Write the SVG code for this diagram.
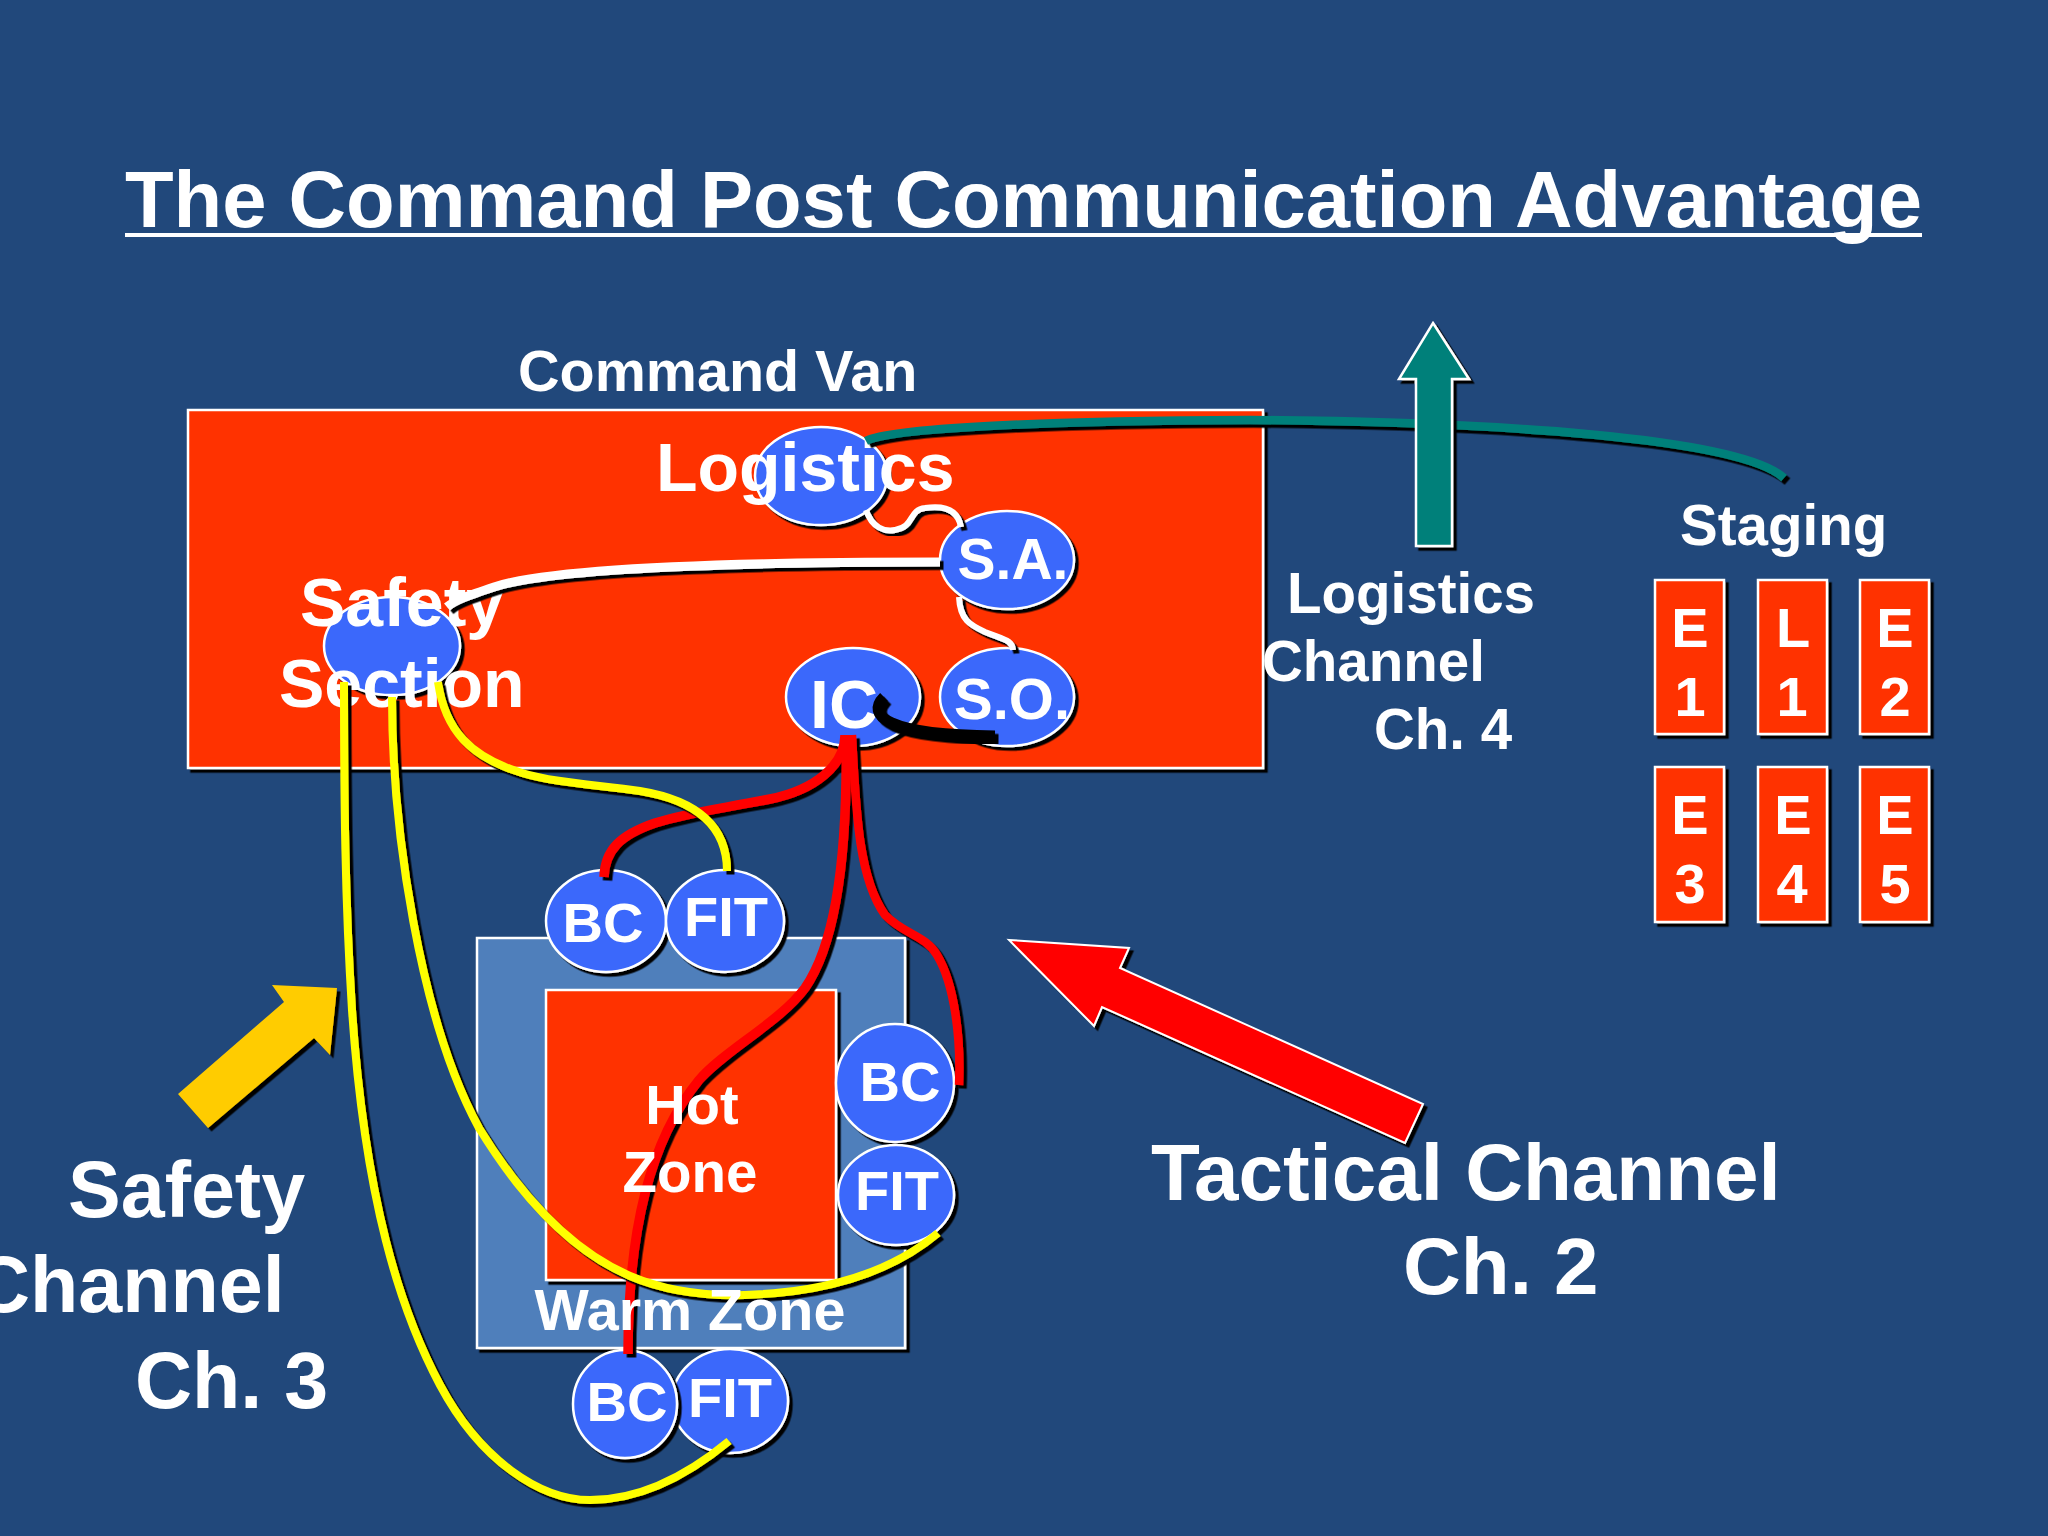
<svg xmlns="http://www.w3.org/2000/svg" width="2048" height="1536" viewBox="0 0 2048 1536">
<style>
text{font-family:"Liberation Sans",Arial,sans-serif;font-weight:700;fill:#fff}
.s{filter:url(#sh)}
.box{fill:#ff3300;stroke:#fff;stroke-width:2.5;filter:url(#sh)}
.n{fill:#3a68fb;stroke:#fff;stroke-width:2.5;filter:url(#sh)}
.c{fill:none;filter:url(#sh);stroke-linecap:butt}
.r{stroke:#ff0000;stroke-width:9.5}
.y{stroke:#ffff00;stroke-width:8}
.w{stroke:#fff;stroke-width:6}
.t56{font-size:56.5px}
.t54{font-size:56px}
.t67{font-size:68px}
.t80{font-size:80px}
.t79{font-size:79px}
</style>
<defs>
<filter id="sh" x="-20%" y="-20%" width="140%" height="140%" filterUnits="objectBoundingBox"><feDropShadow dx="3.5" dy="3.5" stdDeviation="0.6" flood-color="#000"/></filter>
</defs>
<rect id="background" width="2048" height="1536" fill="#21487b"/>
<g id="title">
<text x="125" y="227" font-size="79" textLength="1797" lengthAdjust="spacingAndGlyphs">The Command Post Communication Advantage</text>
<rect x="125" y="233" width="1797" height="4" fill="#fff"/>
</g>
<g id="command-van">
<rect class="box" x="188" y="410" width="1075" height="358"/>
<text font-size="57.5" x="518" y="391">Command Van</text>
</g>
<g id="warm-zone"><rect x="477" y="938" width="428" height="410" fill="#4f7fbb" stroke="#fff" stroke-width="2.5" class="s"/></g>
<g id="hot-zone"><rect class="box" x="546" y="990" width="290" height="290"/></g>
<g id="logistics"><ellipse class="n" cx="821" cy="476" rx="66" ry="49"/><text class="t67" x="656" y="491">Logistics</text></g>
<g id="safety-section"><ellipse class="n" cx="392" cy="646" rx="68" ry="49"/><text class="t67" x="300" y="626">Safety</text><text class="t67" x="279" y="707">Section</text></g>
<g id="sa"><ellipse class="n" cx="1007" cy="560" rx="67" ry="49"/><text font-size="57" x="1013" y="579" text-anchor="middle">S.A.</text></g>
<g id="so"><ellipse class="n" cx="1007" cy="697" rx="67" ry="49"/><text font-size="58" x="1012" y="719" text-anchor="middle">S.O.</text></g>
<g id="ic"><ellipse class="n" cx="853" cy="697" rx="67" ry="49"/><text class="t67" x="844" y="728" text-anchor="middle">IC</text></g>
<g id="bc-top"><ellipse class="n" cx="606" cy="921" rx="60" ry="51"/><text class="t54" x="603" y="942" text-anchor="middle">BC</text></g>
<g id="fit-top"><ellipse class="n" cx="725" cy="921" rx="59" ry="51"/><text class="t54" x="726" y="936" text-anchor="middle">FIT</text></g>
<g id="bc-right"><ellipse class="n" cx="895" cy="1083" rx="59" ry="59"/><text class="t54" x="900" y="1101" text-anchor="middle">BC</text></g>
<g id="fit-right"><ellipse class="n" cx="896" cy="1195" rx="58" ry="50"/><text class="t54" x="897" y="1210" text-anchor="middle">FIT</text></g>
<g id="fit-bottom"><ellipse class="n" cx="730" cy="1401" rx="58" ry="52"/><text class="t54" x="730" y="1417" text-anchor="middle">FIT</text></g>
<g id="bc-bottom"><ellipse class="n" cx="625" cy="1404" rx="52" ry="54"/><text class="t54" x="627" y="1421" text-anchor="middle">BC</text></g>
<g id="staging">
<text class="t56" x="1680" y="545">Staging</text>
<g id="e1"><rect class="box" x="1655" y="580" width="69" height="154"/><text class="t54" x="1690" y="647" text-anchor="middle">E</text><text class="t54" x="1690" y="716" text-anchor="middle">1</text></g>
<g id="l1"><rect class="box" x="1758" y="580" width="69" height="154"/><text class="t54" x="1793" y="647" text-anchor="middle">L</text><text class="t54" x="1792" y="716" text-anchor="middle">1</text></g>
<g id="e2"><rect class="box" x="1860" y="580" width="69" height="154"/><text class="t54" x="1895" y="647" text-anchor="middle">E</text><text class="t54" x="1895" y="716" text-anchor="middle">2</text></g>
<g id="e3"><rect class="box" x="1655" y="767" width="69" height="155"/><text class="t54" x="1690" y="834" text-anchor="middle">E</text><text class="t54" x="1690" y="903" text-anchor="middle">3</text></g>
<g id="e4"><rect class="box" x="1758" y="767" width="69" height="155"/><text class="t54" x="1793" y="834" text-anchor="middle">E</text><text class="t54" x="1792" y="903" text-anchor="middle">4</text></g>
<g id="e5"><rect class="box" x="1860" y="767" width="69" height="155"/><text class="t54" x="1895" y="834" text-anchor="middle">E</text><text class="t54" x="1895" y="903" text-anchor="middle">5</text></g>
</g>
<g id="connectors">
<path class="c" stroke="#00807a" stroke-width="8.5" d="M866,441 C890,428 1040,421 1250,420 C1500,422 1740,438 1784,478"/>
<path class="c w" d="M866,510 C872,528 885,532 895,530 C915,527 908,510 925,508 C945,505 958,510 961,527"/>
<path class="c w" style="stroke-width:9" d="M940,562 C800,562 560,565 494,587 C470,595 455,600 447,607"/>
<path class="c w" d="M959,597 C960,620 970,625 985,632 C1005,640 1012,640 1013,650"/>
<path class="c" stroke="#000" stroke-width="11" d="M884,697 C866,715 885,735 995,736"/>
<path class="c r" d="M845,735 C845,765 815,790 770,799 C720,809 690,812 655,823 C620,835 605,850 604,877"/>
<path class="c r" d="M846,735 C848,860 835,945 805,988 C780,1022 725,1050 699,1080 C650,1140 628,1230 628,1354"/>
<path class="c r" style="stroke-width:8.5" d="M852,735 C856,820 860,880 885,915 C905,935 925,935 937,955 C955,985 961,1040 959,1085"/>
<path class="c y" d="M438,682 C445,730 470,757 522,773 C555,783 600,785 640,791 C695,800 727,825 727,871"/>
<path class="c y" d="M344,682 C344,800 345,900 352,1010 C365,1200 400,1310 440,1385 C480,1460 540,1500 590,1500 C650,1500 700,1465 729,1441"/>
<path class="c y" d="M392,697 C392,830 420,1020 479,1128 C520,1195 570,1250 630,1276 C670,1293 710,1296 745,1295 C840,1292 900,1265 938,1233"/>
</g>
<g id="zone-labels">
<text class="t54" x="692" y="1124" text-anchor="middle">Hot</text>
<text font-size="56.5" x="690" y="1192" text-anchor="middle">Zone</text>
<text font-size="57.5" x="690" y="1330" text-anchor="middle">Warm Zone</text>
</g>
<g id="logistics-arrow">
<polygon class="s" points="1433,323 1469,379 1452,379 1452,546 1416,546 1416,379 1399,379" fill="#00807a" stroke="#fff" stroke-width="2.5"/>
<text class="t56" x="1287" y="613">Logistics</text>
<text class="t56" x="1262" y="681">Channel</text>
<text class="t56" x="1374" y="749">Ch. 4</text>
</g>
<g id="safety-arrow">
<polygon class="s" points="337,988 272,985 284,1002 178,1094 208,1128 314,1038 330,1055" fill="#ffcc00"/>
<text class="t79" x="68" y="1217">Safety</text>
<text class="t79" x="-27" y="1312">Channel</text>
<text class="t79" x="135" y="1408">Ch. 3</text>
</g>
<g id="tactical-arrow">
<polygon class="s" points="1009,940 1129,948 1120,968 1423,1104 1405,1143 1102,1007 1094,1026" fill="#ff0000" stroke="#fff" stroke-width="2"/>
<text class="t80" x="1151" y="1200">Tactical Channel</text>
<text class="t80" x="1403" y="1294">Ch. 2</text>
</g>
</svg>
